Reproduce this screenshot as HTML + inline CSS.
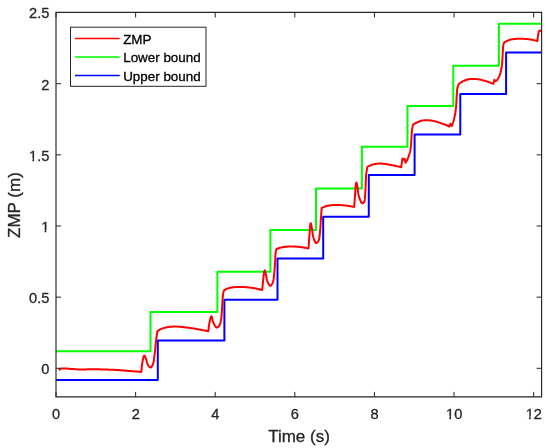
<!DOCTYPE html>
<html><head><meta charset="utf-8"><style>
html,body{margin:0;padding:0;background:#fff;width:550px;height:448px;overflow:hidden}
svg{display:block}
.lg text{fill:#000;stroke:#000}
text{font-family:"Liberation Sans",Arial,sans-serif;fill:#262626;stroke:#262626;stroke-width:0.3px}
</style></head><body>
<svg width="550" height="448" viewBox="0 0 550 448">
<rect x="0" y="0" width="550" height="448" fill="#fff"/>
<g fill="none" stroke-linejoin="round" stroke-width="2">
<polyline stroke="#00ff00" points="56.0,351.2 150.5,351.2 150.5,312.0 217.4,312.0 217.4,271.7 270.4,271.7 270.4,230.1 316.0,230.1 316.0,188.5 361.9,188.5 361.9,146.8 407.5,146.8 407.5,106.0 453.3,106.0 453.3,65.7 498.9,65.7 498.9,23.8 541.6,23.8"/>
<polyline stroke="#0000ff" points="56.0,379.9 157.8,379.9 157.8,340.4 224.4,340.4 224.4,299.8 277.5,299.8 277.5,258.6 323.2,258.6 323.2,216.7 368.8,216.7 368.8,175.1 414.6,175.1 414.6,134.5 460.3,134.5 460.3,94.1 506.1,94.1 506.1,52.6 541.6,52.6"/>
<polyline stroke="#ff0000" points="58.90,370.30 59.10,370.06 59.29,369.80 59.48,369.54 59.68,369.30 59.91,369.08 60.20,368.90 60.71,368.71 61.29,368.60 61.95,368.54 62.67,368.52 63.42,368.51 64.20,368.50 65.40,368.51 66.72,368.57 68.12,368.67 69.56,368.79 71.00,368.90 72.40,369.00 73.75,369.09 75.10,369.19 76.45,369.29 77.80,369.38 79.15,369.46 80.50,369.50 81.86,369.51 83.23,369.48 84.60,369.43 85.96,369.38 87.33,369.33 88.70,369.30 90.07,369.29 91.43,369.28 92.80,369.28 94.17,369.28 95.53,369.29 96.90,369.30 98.27,369.32 99.63,369.35 101.00,369.38 102.37,369.42 103.73,369.46 105.10,369.50 106.47,369.54 107.83,369.59 109.20,369.63 110.57,369.68 111.93,369.74 113.30,369.80 114.67,369.87 116.04,369.94 117.40,370.02 118.77,370.11 120.14,370.20 121.50,370.30 122.85,370.41 124.20,370.52 125.55,370.64 126.90,370.77 128.25,370.89 129.60,371.00 131.00,371.11 132.46,371.21 133.91,371.32 135.32,371.42 136.63,371.51 137.80,371.60 138.47,371.65 139.08,371.71 139.64,371.75 140.19,371.80 140.73,371.85 141.30,371.90 141.52,369.94 141.72,367.92 141.93,365.89 142.15,363.94 142.40,362.12 142.70,360.50 142.93,359.45 143.18,358.35 143.44,357.32 143.71,356.45 144.00,355.84 144.30,355.60 144.57,355.73 144.85,356.13 145.14,356.71 145.43,357.40 145.72,358.12 146.00,358.80 146.33,359.74 146.63,360.82 146.92,361.97 147.23,363.09 147.58,364.13 148.00,365.00 148.37,365.58 148.78,366.15 149.21,366.68 149.65,367.11 150.09,367.40 150.50,367.50 150.89,367.39 151.28,367.12 151.66,366.71 152.03,366.20 152.38,365.62 152.70,365.00 153.20,363.61 153.60,361.86 153.91,359.86 154.19,357.73 154.44,355.57 154.70,353.50 154.98,351.30 155.22,349.01 155.44,346.70 155.65,344.40 155.86,342.19 156.10,340.10 156.31,338.51 156.52,337.00 156.74,335.53 156.96,334.10 157.18,332.66 157.40,331.20 158.01,330.82 158.60,330.44 159.20,330.05 159.81,329.68 160.44,329.32 161.10,329.00 161.89,328.67 162.72,328.37 163.58,328.09 164.45,327.83 165.33,327.60 166.20,327.40 167.04,327.23 167.89,327.08 168.74,326.96 169.59,326.86 170.45,326.77 171.30,326.70 172.15,326.64 173.00,326.61 173.85,326.59 174.70,326.58 175.55,326.59 176.40,326.60 177.25,326.62 178.10,326.66 178.95,326.71 179.80,326.76 180.65,326.83 181.50,326.90 182.34,326.98 183.17,327.07 184.00,327.18 184.83,327.28 185.66,327.39 186.50,327.50 187.35,327.61 188.20,327.72 189.05,327.84 189.90,327.96 190.75,328.08 191.60,328.20 192.45,328.33 193.30,328.45 194.15,328.58 195.00,328.72 195.85,328.85 196.70,329.00 197.54,329.15 198.38,329.32 199.21,329.48 200.05,329.65 200.91,329.83 201.80,330.00 202.84,330.20 203.91,330.39 205.00,330.60 206.10,330.80 207.21,331.00 208.30,331.20 208.50,329.64 208.70,328.05 208.89,326.46 209.09,324.90 209.32,323.40 209.60,322.00 209.86,320.81 210.15,319.53 210.45,318.28 210.77,317.22 211.09,316.48 211.40,316.20 211.71,316.55 212.00,317.48 212.29,318.77 212.61,320.22 212.97,321.64 213.40,322.80 213.87,323.75 214.39,324.77 214.95,325.75 215.53,326.59 216.12,327.21 216.70,327.50 217.15,327.47 217.63,327.27 218.11,326.94 218.58,326.51 219.02,326.02 219.40,325.50 219.85,324.67 220.22,323.68 220.51,322.56 220.76,321.35 220.98,320.09 221.20,318.80 221.45,317.01 221.62,315.07 221.75,313.03 221.86,310.94 221.97,308.84 222.10,306.80 222.24,304.71 222.38,302.53 222.51,300.35 222.66,298.26 222.82,296.34 223.00,294.70 223.12,293.89 223.25,293.17 223.39,292.51 223.53,291.88 223.66,291.26 223.80,290.60 224.16,290.36 224.50,290.12 224.85,289.88 225.21,289.65 225.59,289.42 226.00,289.20 226.59,288.93 227.23,288.67 227.91,288.42 228.61,288.19 229.31,287.98 230.00,287.80 230.66,287.65 231.33,287.53 231.99,287.43 232.66,287.34 233.33,287.27 234.00,287.20 234.67,287.14 235.33,287.10 236.00,287.06 236.67,287.04 237.33,287.02 238.00,287.00 238.67,286.99 239.33,286.98 240.00,286.98 240.67,286.98 241.33,286.99 242.00,287.00 242.67,287.02 243.33,287.04 244.00,287.08 244.67,287.11 245.33,287.15 246.00,287.20 246.67,287.25 247.33,287.31 248.00,287.38 248.67,287.44 249.33,287.52 250.00,287.60 250.67,287.69 251.33,287.78 252.00,287.88 252.67,287.98 253.33,288.09 254.00,288.20 254.67,288.32 255.33,288.45 255.99,288.58 256.66,288.71 257.33,288.86 258.00,289.00 258.71,289.16 259.42,289.32 260.14,289.49 260.86,289.66 261.58,289.83 262.30,290.00 262.46,288.15 262.61,286.28 262.76,284.41 262.92,282.56 263.10,280.75 263.30,279.00 263.50,277.31 263.71,275.42 263.94,273.57 264.18,271.97 264.43,270.84 264.70,270.40 264.90,270.60 265.12,271.17 265.34,271.98 265.57,272.93 265.79,273.91 266.00,274.80 266.22,275.85 266.41,277.00 266.58,278.18 266.79,279.35 267.05,280.48 267.40,281.50 267.79,282.40 268.26,283.35 268.76,284.26 269.28,285.04 269.81,285.58 270.30,285.80 270.72,285.68 271.15,285.33 271.58,284.81 271.99,284.18 272.37,283.49 272.70,282.80 273.08,281.74 273.37,280.54 273.59,279.22 273.76,277.81 273.92,276.33 274.10,274.80 274.34,272.56 274.55,270.07 274.74,267.46 274.90,264.85 275.06,262.35 275.20,260.10 275.29,258.56 275.36,257.07 275.43,255.63 275.50,254.30 275.58,253.08 275.70,252.00 275.79,251.45 275.88,250.96 275.99,250.51 276.09,250.08 276.20,249.65 276.30,249.20 276.91,248.96 277.52,248.71 278.14,248.46 278.75,248.22 279.37,248.00 280.00,247.80 280.65,247.63 281.31,247.47 281.98,247.34 282.66,247.21 283.33,247.10 284.00,247.00 284.66,246.91 285.33,246.83 286.00,246.76 286.67,246.70 287.33,246.65 288.00,246.60 288.67,246.55 289.33,246.50 290.00,246.46 290.67,246.43 291.33,246.41 292.00,246.40 292.67,246.41 293.33,246.43 294.00,246.46 294.67,246.50 295.33,246.55 296.00,246.60 296.67,246.65 297.33,246.71 298.00,246.78 298.67,246.84 299.33,246.92 300.00,247.00 300.66,247.09 301.33,247.18 301.99,247.28 302.65,247.38 303.32,247.49 304.00,247.60 304.74,247.72 305.48,247.85 306.23,247.99 306.99,248.13 307.75,248.26 308.50,248.40 308.65,246.34 308.79,244.27 308.93,242.21 309.07,240.15 309.23,238.08 309.40,236.00 309.59,233.58 309.78,230.81 309.98,228.03 310.20,225.59 310.43,223.87 310.70,223.20 310.90,223.46 311.11,224.18 311.34,225.21 311.57,226.42 311.79,227.66 312.00,228.80 312.22,230.16 312.40,231.64 312.58,233.17 312.78,234.69 313.04,236.16 313.40,237.50 313.79,238.65 314.24,239.88 314.74,241.06 315.26,242.07 315.78,242.80 316.30,243.10 316.71,243.01 317.13,242.69 317.56,242.19 317.98,241.57 318.37,240.89 318.70,240.20 319.11,238.99 319.41,237.57 319.62,235.97 319.79,234.28 319.93,232.53 320.10,230.80 320.30,228.68 320.46,226.42 320.61,224.10 320.74,221.78 320.86,219.52 321.00,217.40 321.12,215.74 321.24,214.14 321.35,212.60 321.47,211.07 321.58,209.55 321.70,208.00 322.42,207.69 323.13,207.36 323.85,207.04 324.57,206.73 325.28,206.44 326.00,206.20 326.67,206.01 327.33,205.86 328.00,205.72 328.67,205.61 329.33,205.50 330.00,205.40 330.66,205.31 331.33,205.22 332.00,205.15 332.66,205.09 333.33,205.04 334.00,205.00 334.67,204.97 335.33,204.96 336.00,204.96 336.67,204.97 337.33,204.98 338.00,205.00 338.67,205.02 339.33,205.04 340.00,205.08 340.67,205.11 341.33,205.15 342.00,205.20 342.67,205.25 343.33,205.31 344.00,205.38 344.67,205.44 345.33,205.52 346.00,205.60 346.67,205.69 347.33,205.78 348.00,205.88 348.66,205.98 349.33,206.09 350.00,206.20 350.69,206.32 351.39,206.45 352.09,206.59 352.80,206.73 353.50,206.86 354.20,207.00 354.33,205.18 354.45,203.37 354.58,201.57 354.71,199.75 354.85,197.90 355.00,196.00 355.18,193.54 355.36,190.65 355.56,187.73 355.77,185.16 356.02,183.32 356.30,182.60 356.47,182.75 356.65,183.17 356.85,183.79 357.04,184.53 357.23,185.33 357.40,186.10 357.62,187.41 357.79,188.94 357.94,190.59 358.11,192.29 358.35,193.95 358.70,195.50 359.14,197.00 359.65,198.62 360.23,200.22 360.84,201.62 361.47,202.67 362.10,203.20 362.44,203.25 362.79,203.19 363.15,203.04 363.50,202.81 363.82,202.53 364.10,202.20 364.45,201.48 364.68,200.52 364.82,199.39 364.91,198.14 364.99,196.83 365.10,195.50 365.27,193.50 365.40,191.25 365.51,188.88 365.61,186.48 365.70,184.19 365.80,182.10 365.86,180.64 365.91,179.27 365.95,177.95 366.01,176.66 366.08,175.39 366.20,174.10 366.35,172.86 366.54,171.64 366.75,170.43 366.97,169.22 367.19,168.01 367.40,166.80 368.17,166.46 368.94,166.10 369.71,165.74 370.48,165.40 371.24,165.08 372.00,164.80 372.68,164.58 373.34,164.38 374.01,164.20 374.67,164.05 375.33,163.91 376.00,163.80 376.66,163.72 377.33,163.66 378.00,163.63 378.66,163.61 379.33,163.60 380.00,163.60 380.67,163.61 381.33,163.62 382.00,163.65 382.67,163.69 383.33,163.74 384.00,163.80 384.67,163.87 385.34,163.96 386.00,164.06 386.67,164.17 387.33,164.28 388.00,164.40 388.67,164.52 389.33,164.65 390.00,164.79 390.67,164.93 391.33,165.06 392.00,165.20 392.66,165.33 393.31,165.46 393.97,165.59 394.63,165.72 395.30,165.85 396.00,166.00 396.83,166.18 397.68,166.38 398.56,166.58 399.44,166.79 400.33,167.00 401.20,167.20 402.40,158.60 403.60,159.80 404.60,158.80 405.60,162.80 405.78,162.49 405.96,162.20 406.14,161.91 406.32,161.60 406.51,161.27 406.70,160.90 407.02,160.25 407.35,159.53 407.70,158.75 408.05,157.92 408.39,157.06 408.70,156.20 409.04,155.18 409.38,154.13 409.70,153.04 409.99,151.91 410.26,150.73 410.50,149.50 410.74,147.86 410.92,146.10 411.05,144.27 411.17,142.41 411.28,140.57 411.40,138.80 411.52,137.16 411.61,135.51 411.71,133.87 411.81,132.28 411.94,130.78 412.10,129.40 412.24,128.49 412.40,127.65 412.57,126.85 412.75,126.07 412.93,125.30 413.10,124.50 413.92,124.07 414.75,123.63 415.57,123.19 416.39,122.76 417.20,122.36 418.00,122.00 418.68,121.71 419.35,121.44 420.01,121.19 420.67,120.96 421.33,120.77 422.00,120.60 422.66,120.47 423.33,120.37 423.99,120.30 424.66,120.25 425.33,120.22 426.00,120.20 426.67,120.19 427.33,120.21 428.00,120.24 428.67,120.28 429.33,120.34 430.00,120.40 430.67,120.47 431.34,120.55 432.01,120.64 432.67,120.74 433.34,120.86 434.00,121.00 434.67,121.16 435.34,121.35 436.01,121.55 436.67,121.76 437.34,121.98 438.00,122.20 438.67,122.42 439.34,122.65 440.00,122.89 440.67,123.13 441.33,123.36 442.00,123.60 442.67,123.83 443.35,124.06 444.03,124.29 444.70,124.52 445.36,124.75 446.00,125.00 446.57,125.24 447.13,125.49 447.67,125.74 448.21,125.99 448.75,126.25 449.30,126.50 450.40,123.70 451.70,126.10 451.99,125.34 452.28,124.60 452.57,123.86 452.86,123.10 453.14,122.32 453.40,121.50 453.70,120.47 453.99,119.39 454.26,118.28 454.52,117.13 454.77,115.97 455.00,114.80 455.23,113.53 455.44,112.24 455.62,110.92 455.80,109.58 455.96,108.21 456.10,106.80 456.24,105.09 456.34,103.29 456.43,101.45 456.51,99.61 456.60,97.81 456.70,96.10 456.79,94.67 456.87,93.25 456.96,91.86 457.06,90.53 457.20,89.27 457.40,88.10 457.59,87.30 457.81,86.56 458.05,85.86 458.31,85.18 458.56,84.50 458.80,83.80 459.67,83.28 460.55,82.75 461.43,82.21 462.30,81.69 463.16,81.22 464.00,80.80 464.68,80.50 465.35,80.22 466.01,79.97 466.67,79.75 467.33,79.56 468.00,79.40 468.66,79.27 469.33,79.18 469.99,79.12 470.66,79.07 471.33,79.03 472.00,79.00 472.67,78.97 473.33,78.95 474.00,78.94 474.67,78.94 475.33,78.96 476.00,79.00 476.67,79.06 477.34,79.14 478.00,79.24 478.67,79.35 479.34,79.47 480.00,79.60 480.67,79.74 481.34,79.90 482.00,80.06 482.67,80.24 483.34,80.42 484.00,80.60 484.66,80.78 485.31,80.97 485.97,81.16 486.63,81.36 487.30,81.57 488.00,81.80 488.86,82.10 489.74,82.42 490.65,82.76 491.57,83.11 492.49,83.46 493.40,83.80 494.50,79.70 495.60,81.30 495.92,81.01 496.24,80.74 496.57,80.46 496.89,80.17 497.20,79.86 497.50,79.50 497.87,78.99 498.22,78.44 498.56,77.84 498.89,77.20 499.20,76.52 499.50,75.80 499.88,74.78 500.23,73.67 500.57,72.49 500.87,71.27 501.15,70.03 501.40,68.80 501.62,67.52 501.80,66.22 501.94,64.91 502.07,63.58 502.18,62.21 502.30,60.80 502.43,59.07 502.53,57.22 502.62,55.32 502.71,53.46 502.80,51.69 502.90,50.10 502.97,49.07 503.03,48.08 503.08,47.14 503.16,46.26 503.26,45.44 503.40,44.70 503.52,44.25 503.67,43.85 503.82,43.48 503.98,43.13 504.14,42.77 504.30,42.40 504.64,42.22 504.97,42.04 505.30,41.86 505.64,41.68 506.01,41.49 506.40,41.30 507.00,41.02 507.65,40.71 508.35,40.40 509.07,40.09 509.79,39.82 510.50,39.60 511.19,39.44 511.89,39.31 512.59,39.22 513.29,39.14 514.00,39.07 514.70,39.00 515.40,38.93 516.10,38.86 516.80,38.81 517.50,38.76 518.20,38.72 518.90,38.70 519.60,38.69 520.30,38.70 521.00,38.71 521.70,38.74 522.40,38.77 523.10,38.80 523.80,38.84 524.50,38.88 525.20,38.92 525.90,38.98 526.60,39.04 527.30,39.10 527.99,39.17 528.69,39.24 529.38,39.31 530.07,39.40 530.74,39.49 531.40,39.60 531.99,39.71 532.58,39.84 533.16,39.98 533.72,40.12 534.27,40.26 534.80,40.40 535.24,40.52 535.66,40.63 536.07,40.75 536.48,40.87 536.89,40.98 537.30,41.10 537.43,40.10 537.56,39.09 537.68,38.08 537.81,37.08 537.95,36.12 538.10,35.20 538.22,34.44 538.33,33.67 538.44,32.91 538.58,32.23 538.76,31.64 539.00,31.20 539.17,31.01 539.37,30.86 539.57,30.75 539.79,30.66 540.00,30.61 540.20,30.60 540.39,30.63 540.57,30.71 540.75,30.83 540.94,30.96 541.12,31.09 541.30,31.20"/>
</g>
<path d="M56.00,396.9V391.9M56.00,12.5V17.5M135.61,396.9V391.9M135.61,12.5V17.5M215.22,396.9V391.9M215.22,12.5V17.5M294.82,396.9V391.9M294.82,12.5V17.5M374.43,396.9V391.9M374.43,12.5V17.5M454.04,396.9V391.9M454.04,12.5V17.5M533.65,396.9V391.9M533.65,12.5V17.5M56.0,368.30H61.0M541.6,368.30H536.6M56.0,297.15H61.0M541.6,297.15H536.6M56.0,226.00H61.0M541.6,226.00H536.6M56.0,154.85H61.0M541.6,154.85H536.6M56.0,83.70H61.0M541.6,83.70H536.6M56.0,12.55H61.0M541.6,12.55H536.6" stroke="#262626" stroke-width="1" fill="none"/>
<path d="M56.0,12.4H541.6M56.0,396.9H541.6M56.0,12.4V396.9M541.6,12.4V396.9" fill="none" stroke="#262626" stroke-width="1.15" stroke-linecap="square"/>
<g font-size="14.6">
<text x="56.10" y="418.7" text-anchor="middle">0</text>
<text x="135.71" y="418.7" text-anchor="middle">2</text>
<text x="215.32" y="418.7" text-anchor="middle">4</text>
<text x="294.92" y="418.7" text-anchor="middle">6</text>
<text x="374.53" y="418.7" text-anchor="middle">8</text>
<text x="454.14" y="418.7" text-anchor="middle">10</text>
<text x="533.75" y="418.7" text-anchor="middle">12</text>
<text x="49.4" y="374.10" text-anchor="end">0</text>
<text x="49.4" y="302.95" text-anchor="end">0.5</text>
<text x="49.4" y="231.80" text-anchor="end">1</text>
<text x="49.4" y="160.65" text-anchor="end">1.5</text>
<text x="49.4" y="89.50" text-anchor="end">2</text>
<text x="49.4" y="18.35" text-anchor="end">2.5</text>
</g>
<g fill="#fff"><rect x="41.79" y="230.00" width="2.82" height="3.00"/><rect x="46.27" y="230.00" width="3.02" height="3.00"/><rect x="29.62" y="158.00" width="2.82" height="4.00"/><rect x="34.10" y="158.00" width="3.02" height="4.00"/><rect x="446.53" y="416.00" width="2.82" height="4.00"/><rect x="451.01" y="416.00" width="3.02" height="4.00"/><rect x="526.14" y="416.00" width="2.82" height="4.00"/><rect x="530.62" y="416.00" width="3.02" height="4.00"/></g>
<text x="299" y="441.5" font-size="17" text-anchor="middle">Time (s)</text>
<text transform="translate(19.8,205.1) rotate(-90)" font-size="17" text-anchor="middle">ZMP (m)</text>
<g>
<rect x="70.5" y="27.2" width="135.5" height="59.1" fill="#fff" stroke="#262626" stroke-width="1"/>
<path d="M75,38.5H119.7" stroke="#ff0000" stroke-width="1.7"/>
<path d="M75,57.0H119.7" stroke="#00ff00" stroke-width="1.7"/>
<path d="M75,75.5H119.7" stroke="#0000ff" stroke-width="1.7"/>
<g font-size="13.4" class="lg">
<text x="123.2" y="43.75">ZMP</text>
<text x="123.2" y="62.25">Lower bound</text>
<text x="123.2" y="80.65">Upper bound</text>
</g>
</g>
</svg>
</body></html>
